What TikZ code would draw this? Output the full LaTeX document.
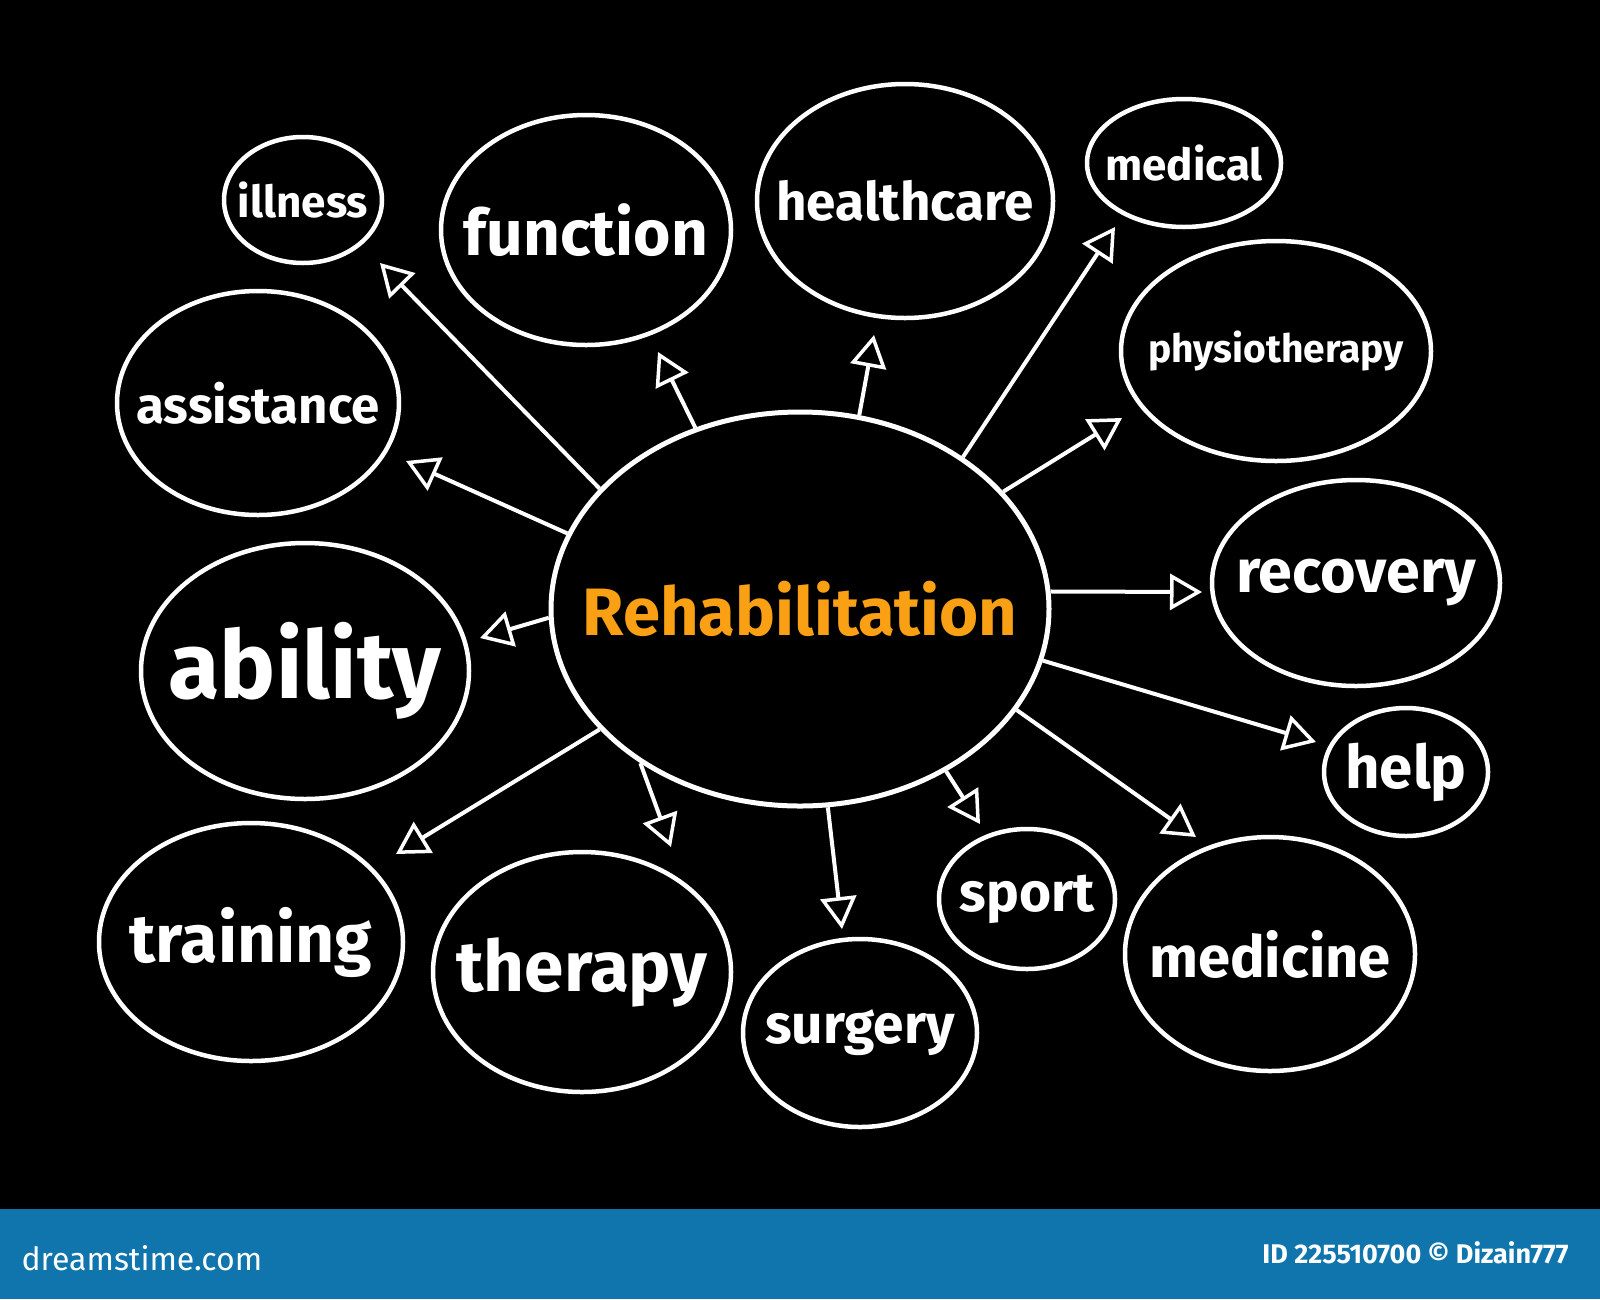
\documentclass[tikz,border=0pt]{standalone}
\usepackage{fontspec}
\setmainfont{Fira Sans}
\usepackage{tikz}
\usetikzlibrary{shapes.geometric,arrows.meta}
\definecolor{hubOrange}{RGB}{250,160,20}
\definecolor{barBlue}{RGB}{16,117,173}

\begin{document}
\begin{tikzpicture}[x=1pt,y=-1pt,
                bubble/.style={ellipse,draw=white,line width=4.5pt,text=white,
                              inner sep=0pt,font=\bfseries},
                hub/.style={ellipse,draw=white,line width=5pt,text=hubOrange,
                              inner sep=0pt,minimum width=498pt,minimum height=394pt,
                              font=\bfseries\fontsize{67}{70}\selectfont},
                spoke/.style={draw=white,line width=4pt,
                              -{Triangle[open,length=32pt,width=36pt,line width=3.5pt]}}
            ]
                \fill[black] (0,0) rectangle (1600,1299);
                \useasboundingbox (0,0) rectangle (1600,1299);
                \fill[barBlue] (0,1209) rectangle (1600,1299);
                \node[text=white,anchor=west,font=\fontsize{32}{34}\selectfont] (site) at (18,1258) {dreamstime.com};
                \node[text=white,anchor=east,font=\bfseries\fontsize{27}{29}\selectfont] (credit) at (1572,1253) {ID 225510700 © Dizain777};

                \node[hub] (rehab) at (800,609) {\makebox[0pt]{Rehabilitation}};

                \node[bubble,minimum width=158pt,minimum height=126pt,font=\bfseries\fontsize{44}{48}\selectfont] (illness) at (303,200) {\makebox[0pt]{illness}};
                \node[bubble,minimum width=290pt,minimum height=230pt,font=\bfseries\fontsize{64}{66}\selectfont] (function) at (586,230) {\makebox[0pt]{function}};
                \node[bubble,minimum width=296pt,minimum height=234pt,font=\bfseries\fontsize{53}{56}\selectfont] (healthcare) at (905,201) {\makebox[0pt]{healthcare}};
                \node[bubble,minimum width=194pt,minimum height=128pt,font=\bfseries\fontsize{44}{46}\selectfont] (medical) at (1184,163) {\makebox[0pt]{medical}};
                \node[bubble,minimum width=310pt,minimum height=220pt,font=\bfseries\fontsize{39}{42}\selectfont] (physio) at (1276,351) {\makebox[0pt]{physiotherapy}};
                \node[bubble,minimum width=282pt,minimum height=224pt,font=\bfseries\fontsize{51}{54}\selectfont] (assistance) at (258,403) {\makebox[0pt]{assistance}};
                \node[bubble,minimum width=288pt,minimum height=206pt,font=\bfseries\fontsize{61}{64}\selectfont] (recovery) at (1356,583) {\makebox[0pt]{recovery}};
                \node[bubble,minimum width=328pt,minimum height=256pt,font=\bfseries\fontsize{94}{96}\selectfont] (ability) at (305,671) {\makebox[0pt]{ability}};
                \node[bubble,minimum width=164pt,minimum height=128pt,font=\bfseries\fontsize{60}{62}\selectfont] (help) at (1406,772) {\makebox[0pt]{help}};
                \node[bubble,minimum width=304pt,minimum height=238pt,font=\bfseries\fontsize{68}{70}\selectfont] (training) at (251,942) {\makebox[0pt]{training}};
                \node[bubble,minimum width=298pt,minimum height=240pt,font=\bfseries\fontsize{71}{74}\selectfont] (therapy) at (582,972) {\makebox[0pt]{therapy}};
                \node[bubble,minimum width=234pt,minimum height=188pt,font=\bfseries\fontsize{55}{58}\selectfont] (surgery) at (860,1033) {\makebox[0pt]{surgery}};
                \node[bubble,minimum width=176pt,minimum height=140pt,font=\bfseries\fontsize{55}{58}\selectfont] (sport) at (1027,899) {\makebox[0pt]{sport}};
                \node[bubble,minimum width=290pt,minimum height=234pt,font=\bfseries\fontsize{58}{60}\selectfont] (medicine) at (1270,954) {\makebox[0pt]{medicine}};

                % arrow tips
                \coordinate (toIllness) at (380,263);
                \coordinate (toFunction) at (658,352);
                \coordinate (toHealthcare) at (874,335);
                \coordinate (toMedical) at (1115,227);
                \coordinate (toPhysio) at (1122,418);
                \coordinate (toAssistance) at (406,461);
                \coordinate (toRecovery) at (1202,592);
                \coordinate (toAbility) at (480,638);
                \coordinate (toHelp) at (1316,742);
                \coordinate (toTraining) at (396,854);
                \coordinate (toTherapy) at (671,847);
                \coordinate (toSurgery) at (842,929);
                \coordinate (toSport) at (980,824);
                \coordinate (toMedicine) at (1196,837);

                \draw[spoke] (rehab.149) -- (toIllness);
                \draw[spoke] (rehab.120) -- (toFunction);
                \draw[spoke] (rehab.73) -- (toHealthcare);
                \draw[spoke] (rehab.43) -- (toMedical);
                \draw[spoke] (rehab.30) -- (toPhysio);
                \draw[spoke] (rehab.162.5) -- (toAssistance);
                \draw[spoke] (rehab.4.4) -- (toRecovery);
                \draw[spoke] (rehab.-178) -- (toAbility);
                \draw[spoke] (rehab.-12) -- (toHelp);
                \draw[spoke] (rehab.-149.7) -- (toTraining);
                \draw[spoke] (rehab.-136.5) -- (toTherapy);
                \draw[spoke] (rehab.-82.9) -- (toSurgery);
                \draw[spoke] (rehab.-48) -- (toSport);
                \draw[spoke] (rehab.-25.4) -- (toMedicine);
            \end{tikzpicture}
\end{document}
